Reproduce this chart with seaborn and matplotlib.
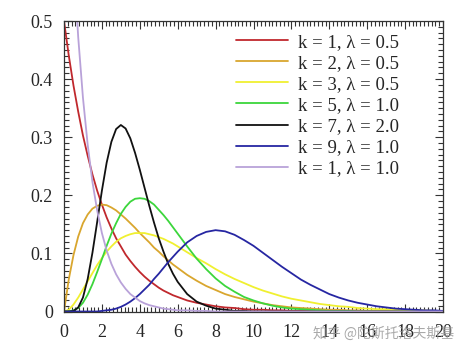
import matplotlib
matplotlib.use('Agg')
import matplotlib.pyplot as plt
from matplotlib.ticker import AutoMinorLocator
import numpy as np
import pandas as pd
import seaborn as sns

# Erlang densities, values
x_grid = [0, 0.25, 0.5, 0.75, 1, 1.25, 1.5, 1.75, 2, 2.25, 2.5, 2.75, 3,
          3.25, 3.5, 3.75, 4, 4.25, 4.5, 4.75, 5, 5.25, 5.5, 5.75, 6,
          6.5, 7, 7.5, 8, 8.5, 9, 9.5, 10, 10.5, 11, 11.5, 12, 12.5, 13,
          13.5, 14, 14.5, 15, 15.5, 16, 16.5, 17, 17.5, 18, 18.5, 19, 19.5, 20]

k1_l05 = [0.500, 0.441, 0.389, 0.344, 0.303, 0.268, 0.236, 0.208, 0.184, 0.162, 0.143, 0.126, 0.112,
          0.098, 0.087, 0.077, 0.068, 0.060, 0.053, 0.047, 0.041, 0.036, 0.032, 0.028, 0.025,
          0.019, 0.015, 0.012, 0.009, 0.007, 0.006, 0.004, 0.003, 0.003, 0.002, 0.002, 0.001, 0.001, 0.001,
          0.001, 0.000, 0.000, 0.000, 0.000, 0.000, 0.000, 0.000, 0.000, 0.000, 0.000, 0.000, 0.000, 0.000]
k2_l05 = [0.000, 0.055, 0.097, 0.129, 0.152, 0.167, 0.177, 0.182, 0.184, 0.183, 0.179, 0.174, 0.167,
          0.160, 0.152, 0.144, 0.135, 0.127, 0.119, 0.110, 0.103, 0.095, 0.088, 0.081, 0.075,
          0.063, 0.053, 0.044, 0.037, 0.030, 0.025, 0.021, 0.017, 0.014, 0.011, 0.009, 0.007, 0.006, 0.005,
          0.004, 0.003, 0.003, 0.002, 0.002, 0.001, 0.001, 0.001, 0.001, 0.001, 0.000, 0.000, 0.000, 0.000]
k3_l05 = [0.000, 0.003, 0.012, 0.024, 0.038, 0.052, 0.066, 0.080, 0.092, 0.103, 0.112, 0.120, 0.126,
          0.130, 0.133, 0.135, 0.135, 0.135, 0.133, 0.131, 0.128, 0.125, 0.121, 0.117, 0.112,
          0.102, 0.092, 0.083, 0.073, 0.064, 0.056, 0.049, 0.042, 0.036, 0.031, 0.026, 0.022, 0.019, 0.016,
          0.013, 0.011, 0.009, 0.008, 0.006, 0.005, 0.004, 0.004, 0.003, 0.002, 0.002, 0.002, 0.001, 0.001]
k5_l1 = [0.000, 0.000, 0.002, 0.006, 0.015, 0.029, 0.047, 0.068, 0.090, 0.113, 0.134, 0.152, 0.168,
         0.180, 0.189, 0.194, 0.195, 0.194, 0.190, 0.184, 0.175, 0.166, 0.156, 0.145, 0.134,
         0.112, 0.091, 0.073, 0.057, 0.044, 0.034, 0.025, 0.019, 0.014, 0.010, 0.007, 0.005, 0.004, 0.003,
         0.002, 0.001, 0.001, 0.001, 0.000, 0.000, 0.000, 0.000, 0.000, 0.000, 0.000, 0.000, 0.000, 0.000]
k7_l2 = [0.000, 0.000, 0.001, 0.007, 0.024, 0.056, 0.101, 0.154, 0.208, 0.256, 0.292, 0.314, 0.321,
         0.315, 0.298, 0.273, 0.244, 0.213, 0.182, 0.153, 0.126, 0.103, 0.082, 0.065, 0.051,
         0.030, 0.017, 0.010, 0.005, 0.003, 0.001, 0.001, 0.000, 0.000, 0.000, 0.000, 0.000, 0.000, 0.000,
         0.000, 0.000, 0.000, 0.000, 0.000, 0.000, 0.000, 0.000, 0.000, 0.000, 0.000, 0.000, 0.000, 0.000]
k9_l1 = [0.000, 0.000, 0.000, 0.000, 0.000, 0.000, 0.000, 0.000, 0.001, 0.002, 0.003, 0.005, 0.008,
         0.012, 0.017, 0.023, 0.030, 0.038, 0.046, 0.056, 0.065, 0.075, 0.085, 0.094, 0.103,
         0.119, 0.130, 0.137, 0.140, 0.138, 0.132, 0.123, 0.113, 0.101, 0.089, 0.077, 0.066, 0.055, 0.046,
         0.038, 0.030, 0.024, 0.019, 0.015, 0.012, 0.009, 0.007, 0.005, 0.004, 0.003, 0.002, 0.002, 0.001]
k1_l1 = [1.000, 0.779, 0.607, 0.472, 0.368, 0.287, 0.223, 0.174, 0.135, 0.105, 0.082, 0.064, 0.050,
         0.039, 0.030, 0.024, 0.018, 0.014, 0.011, 0.009, 0.007, 0.005, 0.004, 0.003, 0.002,
         0.002, 0.001, 0.001, 0.000, 0.000, 0.000, 0.000, 0.000, 0.000, 0.000, 0.000, 0.000, 0.000, 0.000,
         0.000, 0.000, 0.000, 0.000, 0.000, 0.000, 0.000, 0.000, 0.000, 0.000, 0.000, 0.000, 0.000, 0.000]

labels = ['k = 1, λ = 0.5', 'k = 2, λ = 0.5', 'k = 3, λ = 0.5', 'k = 5, λ = 1.0',
          'k = 7, λ = 2.0', 'k = 9, λ = 1.0', 'k = 1, λ = 1.0']
series = [k1_l05, k2_l05, k3_l05, k5_l1, k7_l2, k9_l1, k1_l1]
colors = ['#c0282d', '#d9a62e', '#f0f030', '#3cd63c', '#111111', '#2626a2', '#b9a2d9']

x_ticks = [0, 2, 4, 6, 8, 10, 12, 14, 16, 18, 20]
y_ticks = [0, 0.1, 0.2, 0.3, 0.4, 0.5]
y_tick_labels = ['0', '0.1', '0.2', '0.3', '0.4', '0.5']

df = pd.concat([pd.DataFrame({'x': x_grid, 'y': ys, 'curve': lab})
                for lab, ys in zip(labels, series)], ignore_index=True)

sns.set_style('ticks')
plt.rcParams['font.family'] = ['Liberation Serif', 'DejaVu Serif']

fig = plt.figure(figsize=(4.74, 3.55), dpi=100)
ax = fig.add_axes([64/474, 1-311.5/355, (443-64)/474, (311.5-21)/355])

sns.lineplot(data=df, x='x', y='y', hue='curve', hue_order=labels,
             palette=dict(zip(labels, colors)), estimator=None, sort=False,
             linewidth=1.3, ax=ax)

ax.set_xlim(0, 20)
ax.set_ylim(0, 0.5)
ax.set_xticks(x_ticks)
ax.set_xticklabels([str(t) for t in x_ticks])
ax.set_yticks(y_ticks)
ax.set_yticklabels(y_tick_labels)
ax.xaxis.set_minor_locator(AutoMinorLocator(10))
ax.yaxis.set_minor_locator(AutoMinorLocator(10))
ax.tick_params(which='both', direction='in', top=True, right=True,
               color='#333333', width=0.8, labelsize=13)
ax.tick_params(which='major', length=6)
ax.tick_params(which='minor', length=3.5)
ax.tick_params(axis='y', pad=8)
ax.tick_params(axis='x', pad=9)
ax.set_xlabel('')
ax.set_ylabel('')
for s in ax.spines.values():
    s.set_color('#333333')
    s.set_linewidth(0.9)

ax.legend(loc='upper left', bbox_to_anchor=(0.433, 0.982), borderaxespad=0,
          frameon=False, fontsize=13.5, handlelength=2.8, handletextpad=0.55,
          labelspacing=0.21)

# watermark sits over the x tick labels, as in the reference
fig.text(313/474, 1-338/355, '知乎 @陀斯托洛夫斯基', color='#9a9a9a', alpha=0.85,
         fontsize=10, family=['Noto Sans CJK SC', 'DejaVu Sans'])

fig.savefig('out.png', dpi=100)
